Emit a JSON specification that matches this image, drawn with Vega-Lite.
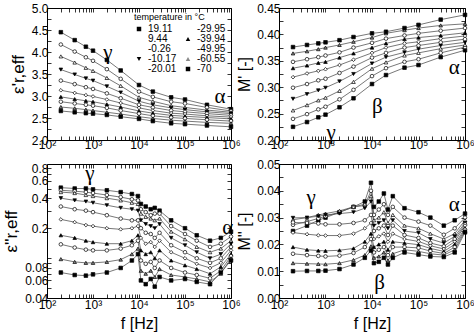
{
"$schema":"https://vega.github.io/schema/vega-lite/v6.json",
"padding":{"left":2,"top":1,"right":2,"bottom":0},
"config":{
"view":{"stroke":"black","strokeWidth":1},
"font":"Liberation Sans",
"axis":{"labelFont":"Liberation Sans","labelFontSize":12,"labelColor":"black","titleFont":"Liberation Sans","titleFontSize":16,"titleFontWeight":"normal","titleColor":"black","tickColor":"black","tickSize":-4,"tickWidth":0.8,"domain":false,"grid":false,"labelFlush":false,"labelOverlap":false,"labelPadding":3},
"text":{"font":"Liberation Serif","fontSize":21,"align":"center","baseline":"middle","color":"black"}
},
"datasets":{
"a":[
{"s":"19.11","f":200,"v":4.45},{"s":"19.11","f":400,"v":4.27},{"s":"19.11","f":700,"v":4.12},{"s":"19.11","f":1000,"v":4.03},{"s":"19.11","f":2000,"v":3.82},{"s":"19.11","f":4000,"v":3.58},{"s":"19.11","f":10000,"v":3.25},{"s":"19.11","f":20000,"v":3.1},{"s":"19.11","f":50000,"v":2.97},{"s":"19.11","f":100000,"v":2.92},{"s":"19.11","f":300000,"v":2.8},{"s":"19.11","f":1000000,"v":2.7},
{"s":"9.44","f":200,"v":4.17},{"s":"9.44","f":400,"v":4.01},{"s":"9.44","f":700,"v":3.88},{"s":"9.44","f":1000,"v":3.8},{"s":"9.44","f":2000,"v":3.61},{"s":"9.44","f":4000,"v":3.39},{"s":"9.44","f":10000,"v":3.1},{"s":"9.44","f":20000,"v":2.98},{"s":"9.44","f":50000,"v":2.87},{"s":"9.44","f":100000,"v":2.83},{"s":"9.44","f":300000,"v":2.74},{"s":"9.44","f":1000000,"v":2.66},
{"s":"-0.26","f":200,"v":3.9},{"s":"-0.26","f":400,"v":3.76},{"s":"-0.26","f":700,"v":3.64},{"s":"-0.26","f":1000,"v":3.57},{"s":"-0.26","f":2000,"v":3.41},{"s":"-0.26","f":4000,"v":3.23},{"s":"-0.26","f":10000,"v":2.97},{"s":"-0.26","f":20000,"v":2.88},{"s":"-0.26","f":50000,"v":2.78},{"s":"-0.26","f":100000,"v":2.74},{"s":"-0.26","f":300000,"v":2.68},{"s":"-0.26","f":1000000,"v":2.63},
{"s":"-10.17","f":200,"v":3.6},{"s":"-10.17","f":400,"v":3.49},{"s":"-10.17","f":700,"v":3.4},{"s":"-10.17","f":1000,"v":3.35},{"s":"-10.17","f":2000,"v":3.22},{"s":"-10.17","f":4000,"v":3.08},{"s":"-10.17","f":10000,"v":2.88},{"s":"-10.17","f":20000,"v":2.8},{"s":"-10.17","f":50000,"v":2.73},{"s":"-10.17","f":100000,"v":2.69},{"s":"-10.17","f":300000,"v":2.64},{"s":"-10.17","f":1000000,"v":2.6},
{"s":"-20.01","f":200,"v":3.35},{"s":"-20.01","f":400,"v":3.27},{"s":"-20.01","f":700,"v":3.2},{"s":"-20.01","f":1000,"v":3.16},{"s":"-20.01","f":2000,"v":3.06},{"s":"-20.01","f":4000,"v":2.95},{"s":"-20.01","f":10000,"v":2.8},{"s":"-20.01","f":20000,"v":2.74},{"s":"-20.01","f":50000,"v":2.67},{"s":"-20.01","f":100000,"v":2.64},{"s":"-20.01","f":300000,"v":2.6},{"s":"-20.01","f":1000000,"v":2.56},
{"s":"-29.95","f":200,"v":3.13},{"s":"-29.95","f":400,"v":3.07},{"s":"-29.95","f":700,"v":3.02},{"s":"-29.95","f":1000,"v":2.99},{"s":"-29.95","f":2000,"v":2.92},{"s":"-29.95","f":4000,"v":2.84},{"s":"-29.95","f":10000,"v":2.73},{"s":"-29.95","f":20000,"v":2.67},{"s":"-29.95","f":50000,"v":2.61},{"s":"-29.95","f":100000,"v":2.59},{"s":"-29.95","f":300000,"v":2.55},{"s":"-29.95","f":1000000,"v":2.52},
{"s":"-39.94","f":200,"v":2.98},{"s":"-39.94","f":400,"v":2.93},{"s":"-39.94","f":700,"v":2.89},{"s":"-39.94","f":1000,"v":2.87},{"s":"-39.94","f":2000,"v":2.81},{"s":"-39.94","f":4000,"v":2.75},{"s":"-39.94","f":10000,"v":2.66},{"s":"-39.94","f":20000,"v":2.61},{"s":"-39.94","f":50000,"v":2.56},{"s":"-39.94","f":100000,"v":2.54},{"s":"-39.94","f":300000,"v":2.51},{"s":"-39.94","f":1000000,"v":2.48},
{"s":"-49.95","f":200,"v":2.87},{"s":"-49.95","f":400,"v":2.83},{"s":"-49.95","f":700,"v":2.8},{"s":"-49.95","f":1000,"v":2.78},{"s":"-49.95","f":2000,"v":2.73},{"s":"-49.95","f":4000,"v":2.67},{"s":"-49.95","f":10000,"v":2.6},{"s":"-49.95","f":20000,"v":2.55},{"s":"-49.95","f":50000,"v":2.51},{"s":"-49.95","f":100000,"v":2.49},{"s":"-49.95","f":300000,"v":2.46},{"s":"-49.95","f":1000000,"v":2.43},
{"s":"-60.55","f":200,"v":2.75},{"s":"-60.55","f":400,"v":2.72},{"s":"-60.55","f":700,"v":2.69},{"s":"-60.55","f":1000,"v":2.67},{"s":"-60.55","f":2000,"v":2.63},{"s":"-60.55","f":4000,"v":2.59},{"s":"-60.55","f":10000,"v":2.53},{"s":"-60.55","f":20000,"v":2.49},{"s":"-60.55","f":50000,"v":2.45},{"s":"-60.55","f":100000,"v":2.43},{"s":"-60.55","f":300000,"v":2.4},{"s":"-60.55","f":1000000,"v":2.38},
{"s":"-70","f":200,"v":2.66},{"s":"-70","f":400,"v":2.63},{"s":"-70","f":700,"v":2.61},{"s":"-70","f":1000,"v":2.6},{"s":"-70","f":2000,"v":2.57},{"s":"-70","f":4000,"v":2.53},{"s":"-70","f":10000,"v":2.48},{"s":"-70","f":20000,"v":2.43},{"s":"-70","f":50000,"v":2.38},{"s":"-70","f":100000,"v":2.36},{"s":"-70","f":300000,"v":2.33},{"s":"-70","f":1000000,"v":2.3}
],
"b":[
{"s":"19.11","f":200,"v":0.225},{"s":"19.11","f":400,"v":0.234},{"s":"19.11","f":700,"v":0.243},{"s":"19.11","f":1000,"v":0.248},{"s":"19.11","f":2000,"v":0.262},{"s":"19.11","f":4000,"v":0.279},{"s":"19.11","f":10000,"v":0.306},{"s":"19.11","f":20000,"v":0.323},{"s":"19.11","f":50000,"v":0.337},{"s":"19.11","f":100000,"v":0.342},{"s":"19.11","f":300000,"v":0.357},{"s":"19.11","f":1000000,"v":0.37},
{"s":"9.44","f":200,"v":0.24},{"s":"9.44","f":400,"v":0.249},{"s":"9.44","f":700,"v":0.258},{"s":"9.44","f":1000,"v":0.263},{"s":"9.44","f":2000,"v":0.277},{"s":"9.44","f":4000,"v":0.295},{"s":"9.44","f":10000,"v":0.321},{"s":"9.44","f":20000,"v":0.336},{"s":"9.44","f":50000,"v":0.348},{"s":"9.44","f":100000,"v":0.353},{"s":"9.44","f":300000,"v":0.365},{"s":"9.44","f":1000000,"v":0.376},
{"s":"-0.26","f":200,"v":0.256},{"s":"-0.26","f":400,"v":0.266},{"s":"-0.26","f":700,"v":0.275},{"s":"-0.26","f":1000,"v":0.28},{"s":"-0.26","f":2000,"v":0.293},{"s":"-0.26","f":4000,"v":0.31},{"s":"-0.26","f":10000,"v":0.335},{"s":"-0.26","f":20000,"v":0.347},{"s":"-0.26","f":50000,"v":0.36},{"s":"-0.26","f":100000,"v":0.365},{"s":"-0.26","f":300000,"v":0.373},{"s":"-0.26","f":1000000,"v":0.38},
{"s":"-10.17","f":200,"v":0.278},{"s":"-10.17","f":400,"v":0.287},{"s":"-10.17","f":700,"v":0.294},{"s":"-10.17","f":1000,"v":0.299},{"s":"-10.17","f":2000,"v":0.311},{"s":"-10.17","f":4000,"v":0.325},{"s":"-10.17","f":10000,"v":0.345},{"s":"-10.17","f":20000,"v":0.357},{"s":"-10.17","f":50000,"v":0.366},{"s":"-10.17","f":100000,"v":0.372},{"s":"-10.17","f":300000,"v":0.379},{"s":"-10.17","f":1000000,"v":0.385},
{"s":"-20.01","f":200,"v":0.299},{"s":"-20.01","f":400,"v":0.306},{"s":"-20.01","f":700,"v":0.313},{"s":"-20.01","f":1000,"v":0.316},{"s":"-20.01","f":2000,"v":0.327},{"s":"-20.01","f":4000,"v":0.339},{"s":"-20.01","f":10000,"v":0.356},{"s":"-20.01","f":20000,"v":0.365},{"s":"-20.01","f":50000,"v":0.375},{"s":"-20.01","f":100000,"v":0.379},{"s":"-20.01","f":300000,"v":0.385},{"s":"-20.01","f":1000000,"v":0.391},
{"s":"-29.95","f":200,"v":0.319},{"s":"-29.95","f":400,"v":0.326},{"s":"-29.95","f":700,"v":0.331},{"s":"-29.95","f":1000,"v":0.334},{"s":"-29.95","f":2000,"v":0.342},{"s":"-29.95","f":4000,"v":0.352},{"s":"-29.95","f":10000,"v":0.365},{"s":"-29.95","f":20000,"v":0.375},{"s":"-29.95","f":50000,"v":0.383},{"s":"-29.95","f":100000,"v":0.386},{"s":"-29.95","f":300000,"v":0.392},{"s":"-29.95","f":1000000,"v":0.397},
{"s":"-39.94","f":200,"v":0.336},{"s":"-39.94","f":400,"v":0.341},{"s":"-39.94","f":700,"v":0.346},{"s":"-39.94","f":1000,"v":0.348},{"s":"-39.94","f":2000,"v":0.356},{"s":"-39.94","f":4000,"v":0.364},{"s":"-39.94","f":10000,"v":0.375},{"s":"-39.94","f":20000,"v":0.383},{"s":"-39.94","f":50000,"v":0.391},{"s":"-39.94","f":100000,"v":0.394},{"s":"-39.94","f":300000,"v":0.398},{"s":"-39.94","f":1000000,"v":0.403},
{"s":"-49.95","f":200,"v":0.348},{"s":"-49.95","f":400,"v":0.353},{"s":"-49.95","f":700,"v":0.357},{"s":"-49.95","f":1000,"v":0.36},{"s":"-49.95","f":2000,"v":0.366},{"s":"-49.95","f":4000,"v":0.375},{"s":"-49.95","f":10000,"v":0.384},{"s":"-49.95","f":20000,"v":0.392},{"s":"-49.95","f":50000,"v":0.398},{"s":"-49.95","f":100000,"v":0.402},{"s":"-49.95","f":300000,"v":0.407},{"s":"-49.95","f":1000000,"v":0.412},
{"s":"-60.55","f":200,"v":0.364},{"s":"-60.55","f":400,"v":0.368},{"s":"-60.55","f":700,"v":0.372},{"s":"-60.55","f":1000,"v":0.375},{"s":"-60.55","f":2000,"v":0.38},{"s":"-60.55","f":4000,"v":0.386},{"s":"-60.55","f":10000,"v":0.394},{"s":"-60.55","f":20000,"v":0.402},{"s":"-60.55","f":50000,"v":0.408},{"s":"-60.55","f":100000,"v":0.412},{"s":"-60.55","f":300000,"v":0.417},{"s":"-60.55","f":1000000,"v":0.42},
{"s":"-70","f":200,"v":0.376},{"s":"-70","f":400,"v":0.38},{"s":"-70","f":700,"v":0.383},{"s":"-70","f":1000,"v":0.385},{"s":"-70","f":2000,"v":0.389},{"s":"-70","f":4000,"v":0.395},{"s":"-70","f":10000,"v":0.402},{"s":"-70","f":20000,"v":0.405},{"s":"-70","f":50000,"v":0.412},{"s":"-70","f":100000,"v":0.418},{"s":"-70","f":300000,"v":0.428},{"s":"-70","f":1000000,"v":0.437}
],
"c":[
{"s":"19.11","f":200,"v":0.51},{"s":"19.11","f":400,"v":0.5},{"s":"19.11","f":700,"v":0.5},{"s":"19.11","f":1000,"v":0.49},{"s":"19.11","f":2000,"v":0.48},{"s":"19.11","f":4000,"v":0.46},{"s":"19.11","f":7000,"v":0.44},{"s":"19.11","f":9500,"v":0.42},{"s":"19.11","f":11000,"v":0.35},{"s":"19.11","f":14000,"v":0.33},{"s":"19.11","f":18000,"v":0.31},{"s":"19.11","f":22000,"v":0.32},{"s":"19.11","f":28000,"v":0.3},{"s":"19.11","f":50000,"v":0.24},{"s":"19.11","f":100000,"v":0.2},{"s":"19.11","f":180000,"v":0.17},{"s":"19.11","f":350000,"v":0.15},{"s":"19.11","f":600000,"v":0.16},{"s":"19.11","f":1000000,"v":0.185},
{"s":"9.44","f":200,"v":0.48},{"s":"9.44","f":400,"v":0.47},{"s":"9.44","f":700,"v":0.46},{"s":"9.44","f":1000,"v":0.45},{"s":"9.44","f":2000,"v":0.43},{"s":"9.44","f":4000,"v":0.41},{"s":"9.44","f":7000,"v":0.39},{"s":"9.44","f":9500,"v":0.38},{"s":"9.44","f":11000,"v":0.31},{"s":"9.44","f":14000,"v":0.29},{"s":"9.44","f":18000,"v":0.27},{"s":"9.44","f":22000,"v":0.28},{"s":"9.44","f":28000,"v":0.28},{"s":"9.44","f":50000,"v":0.21},{"s":"9.44","f":100000,"v":0.175},{"s":"9.44","f":180000,"v":0.15},{"s":"9.44","f":350000,"v":0.13},{"s":"9.44","f":600000,"v":0.14},{"s":"9.44","f":1000000,"v":0.165},
{"s":"-0.26","f":200,"v":0.46},{"s":"-0.26","f":400,"v":0.45},{"s":"-0.26","f":700,"v":0.43},{"s":"-0.26","f":1000,"v":0.42},{"s":"-0.26","f":2000,"v":0.4},{"s":"-0.26","f":4000,"v":0.38},{"s":"-0.26","f":7000,"v":0.36},{"s":"-0.26","f":9500,"v":0.35},{"s":"-0.26","f":11000,"v":0.28},{"s":"-0.26","f":14000,"v":0.26},{"s":"-0.26","f":18000,"v":0.25},{"s":"-0.26","f":22000,"v":0.24},{"s":"-0.26","f":28000,"v":0.25},{"s":"-0.26","f":50000,"v":0.185},{"s":"-0.26","f":100000,"v":0.155},{"s":"-0.26","f":180000,"v":0.13},{"s":"-0.26","f":350000,"v":0.115},{"s":"-0.26","f":600000,"v":0.125},{"s":"-0.26","f":1000000,"v":0.15},
{"s":"-10.17","f":200,"v":0.4},{"s":"-10.17","f":400,"v":0.38},{"s":"-10.17","f":700,"v":0.37},{"s":"-10.17","f":1000,"v":0.36},{"s":"-10.17","f":2000,"v":0.34},{"s":"-10.17","f":4000,"v":0.32},{"s":"-10.17","f":7000,"v":0.31},{"s":"-10.17","f":9500,"v":0.3},{"s":"-10.17","f":11000,"v":0.24},{"s":"-10.17","f":14000,"v":0.22},{"s":"-10.17","f":18000,"v":0.21},{"s":"-10.17","f":22000,"v":0.2},{"s":"-10.17","f":28000,"v":0.22},{"s":"-10.17","f":50000,"v":0.16},{"s":"-10.17","f":100000,"v":0.135},{"s":"-10.17","f":180000,"v":0.115},{"s":"-10.17","f":350000,"v":0.1},{"s":"-10.17","f":600000,"v":0.11},{"s":"-10.17","f":1000000,"v":0.14},
{"s":"-20.01","f":200,"v":0.33},{"s":"-20.01","f":400,"v":0.31},{"s":"-20.01","f":700,"v":0.3},{"s":"-20.01","f":1000,"v":0.29},{"s":"-20.01","f":2000,"v":0.27},{"s":"-20.01","f":4000,"v":0.25},{"s":"-20.01","f":7000,"v":0.24},{"s":"-20.01","f":9500,"v":0.24},{"s":"-20.01","f":11000,"v":0.2},{"s":"-20.01","f":14000,"v":0.18},{"s":"-20.01","f":18000,"v":0.175},{"s":"-20.01","f":22000,"v":0.16},{"s":"-20.01","f":28000,"v":0.18},{"s":"-20.01","f":50000,"v":0.135},{"s":"-20.01","f":100000,"v":0.115},{"s":"-20.01","f":180000,"v":0.1},{"s":"-20.01","f":350000,"v":0.09},{"s":"-20.01","f":600000,"v":0.1},{"s":"-20.01","f":1000000,"v":0.13},
{"s":"-29.95","f":200,"v":0.245},{"s":"-29.95","f":400,"v":0.23},{"s":"-29.95","f":700,"v":0.215},{"s":"-29.95","f":1000,"v":0.21},{"s":"-29.95","f":2000,"v":0.2},{"s":"-29.95","f":4000,"v":0.195},{"s":"-29.95","f":7000,"v":0.2},{"s":"-29.95","f":9500,"v":0.21},{"s":"-29.95","f":11000,"v":0.16},{"s":"-29.95","f":14000,"v":0.14},{"s":"-29.95","f":18000,"v":0.145},{"s":"-29.95","f":22000,"v":0.13},{"s":"-29.95","f":28000,"v":0.15},{"s":"-29.95","f":50000,"v":0.115},{"s":"-29.95","f":100000,"v":0.1},{"s":"-29.95","f":180000,"v":0.088},{"s":"-29.95","f":350000,"v":0.08},{"s":"-29.95","f":600000,"v":0.09},{"s":"-29.95","f":1000000,"v":0.12},
{"s":"-39.94","f":200,"v":0.17},{"s":"-39.94","f":400,"v":0.16},{"s":"-39.94","f":700,"v":0.15},{"s":"-39.94","f":1000,"v":0.145},{"s":"-39.94","f":2000,"v":0.14},{"s":"-39.94","f":4000,"v":0.14},{"s":"-39.94","f":7000,"v":0.15},{"s":"-39.94","f":9500,"v":0.17},{"s":"-39.94","f":11000,"v":0.12},{"s":"-39.94","f":14000,"v":0.11},{"s":"-39.94","f":18000,"v":0.115},{"s":"-39.94","f":22000,"v":0.1},{"s":"-39.94","f":28000,"v":0.12},{"s":"-39.94","f":50000,"v":0.095},{"s":"-39.94","f":100000,"v":0.085},{"s":"-39.94","f":180000,"v":0.078},{"s":"-39.94","f":350000,"v":0.07},{"s":"-39.94","f":600000,"v":0.082},{"s":"-39.94","f":1000000,"v":0.11},
{"s":"-49.95","f":200,"v":0.138},{"s":"-49.95","f":400,"v":0.128},{"s":"-49.95","f":700,"v":0.122},{"s":"-49.95","f":1000,"v":0.12},{"s":"-49.95","f":2000,"v":0.12},{"s":"-49.95","f":4000,"v":0.125},{"s":"-49.95","f":7000,"v":0.135},{"s":"-49.95","f":9500,"v":0.15},{"s":"-49.95","f":11000,"v":0.095},{"s":"-49.95","f":14000,"v":0.088},{"s":"-49.95","f":18000,"v":0.092},{"s":"-49.95","f":22000,"v":0.08},{"s":"-49.95","f":28000,"v":0.095},{"s":"-49.95","f":50000,"v":0.08},{"s":"-49.95","f":100000,"v":0.072},{"s":"-49.95","f":180000,"v":0.068},{"s":"-49.95","f":350000,"v":0.063},{"s":"-49.95","f":600000,"v":0.075},{"s":"-49.95","f":1000000,"v":0.105},
{"s":"-60.55","f":200,"v":0.098},{"s":"-60.55","f":400,"v":0.092},{"s":"-60.55","f":700,"v":0.09},{"s":"-60.55","f":1000,"v":0.09},{"s":"-60.55","f":2000,"v":0.092},{"s":"-60.55","f":4000,"v":0.097},{"s":"-60.55","f":7000,"v":0.11},{"s":"-60.55","f":9500,"v":0.125},{"s":"-60.55","f":11000,"v":0.075},{"s":"-60.55","f":14000,"v":0.07},{"s":"-60.55","f":18000,"v":0.075},{"s":"-60.55","f":22000,"v":0.065},{"s":"-60.55","f":28000,"v":0.078},{"s":"-60.55","f":50000,"v":0.068},{"s":"-60.55","f":100000,"v":0.065},{"s":"-60.55","f":180000,"v":0.062},{"s":"-60.55","f":350000,"v":0.058},{"s":"-60.55","f":600000,"v":0.07},{"s":"-60.55","f":1000000,"v":0.1},
{"s":"-70","f":200,"v":0.072},{"s":"-70","f":400,"v":0.068},{"s":"-70","f":700,"v":0.067},{"s":"-70","f":1000,"v":0.069},{"s":"-70","f":2000,"v":0.072},{"s":"-70","f":4000,"v":0.08},{"s":"-70","f":7000,"v":0.095},{"s":"-70","f":9500,"v":0.11},{"s":"-70","f":11000,"v":0.06},{"s":"-70","f":14000,"v":0.055},{"s":"-70","f":18000,"v":0.062},{"s":"-70","f":22000,"v":0.052},{"s":"-70","f":28000,"v":0.065},{"s":"-70","f":50000,"v":0.06},{"s":"-70","f":100000,"v":0.062},{"s":"-70","f":180000,"v":0.058},{"s":"-70","f":350000,"v":0.055},{"s":"-70","f":600000,"v":0.072},{"s":"-70","f":1000000,"v":0.095}
],
"d":[
{"s":"19.11","f":200,"v":0.025},{"s":"19.11","f":400,"v":0.027},{"s":"19.11","f":700,"v":0.029},{"s":"19.11","f":1000,"v":0.03},{"s":"19.11","f":2000,"v":0.032},{"s":"19.11","f":4000,"v":0.034},{"s":"19.11","f":7000,"v":0.036},{"s":"19.11","f":9500,"v":0.043},{"s":"19.11","f":11000,"v":0.034},{"s":"19.11","f":14000,"v":0.036},{"s":"19.11","f":18000,"v":0.039},{"s":"19.11","f":22000,"v":0.033},{"s":"19.11","f":28000,"v":0.038},{"s":"19.11","f":50000,"v":0.0335},{"s":"19.11","f":100000,"v":0.032},{"s":"19.11","f":180000,"v":0.03},{"s":"19.11","f":350000,"v":0.027},{"s":"19.11","f":600000,"v":0.029},{"s":"19.11","f":1000000,"v":0.0315},
{"s":"9.44","f":200,"v":0.0273},{"s":"9.44","f":400,"v":0.0285},{"s":"9.44","f":700,"v":0.0297},{"s":"9.44","f":1000,"v":0.0305},{"s":"9.44","f":2000,"v":0.032},{"s":"9.44","f":4000,"v":0.034},{"s":"9.44","f":7000,"v":0.0345},{"s":"9.44","f":9500,"v":0.04},{"s":"9.44","f":11000,"v":0.031},{"s":"9.44","f":14000,"v":0.033},{"s":"9.44","f":18000,"v":0.035},{"s":"9.44","f":22000,"v":0.031},{"s":"9.44","f":28000,"v":0.034},{"s":"9.44","f":50000,"v":0.03},{"s":"9.44","f":100000,"v":0.0285},{"s":"9.44","f":180000,"v":0.027},{"s":"9.44","f":350000,"v":0.0236},{"s":"9.44","f":600000,"v":0.026},{"s":"9.44","f":1000000,"v":0.03},
{"s":"-0.26","f":200,"v":0.0292},{"s":"-0.26","f":400,"v":0.03},{"s":"-0.26","f":700,"v":0.031},{"s":"-0.26","f":1000,"v":0.0315},{"s":"-0.26","f":2000,"v":0.0325},{"s":"-0.26","f":4000,"v":0.034},{"s":"-0.26","f":7000,"v":0.035},{"s":"-0.26","f":9500,"v":0.038},{"s":"-0.26","f":11000,"v":0.029},{"s":"-0.26","f":14000,"v":0.03},{"s":"-0.26","f":18000,"v":0.032},{"s":"-0.26","f":22000,"v":0.028},{"s":"-0.26","f":28000,"v":0.031},{"s":"-0.26","f":50000,"v":0.027},{"s":"-0.26","f":100000,"v":0.026},{"s":"-0.26","f":180000,"v":0.024},{"s":"-0.26","f":350000,"v":0.022},{"s":"-0.26","f":600000,"v":0.024},{"s":"-0.26","f":1000000,"v":0.029},
{"s":"-10.17","f":200,"v":0.0299},{"s":"-10.17","f":400,"v":0.03},{"s":"-10.17","f":700,"v":0.0305},{"s":"-10.17","f":1000,"v":0.031},{"s":"-10.17","f":2000,"v":0.0315},{"s":"-10.17","f":4000,"v":0.032},{"s":"-10.17","f":7000,"v":0.0335},{"s":"-10.17","f":9500,"v":0.036},{"s":"-10.17","f":11000,"v":0.027},{"s":"-10.17","f":14000,"v":0.028},{"s":"-10.17","f":18000,"v":0.029},{"s":"-10.17","f":22000,"v":0.026},{"s":"-10.17","f":28000,"v":0.029},{"s":"-10.17","f":50000,"v":0.025},{"s":"-10.17","f":100000,"v":0.0243},{"s":"-10.17","f":180000,"v":0.022},{"s":"-10.17","f":350000,"v":0.0205},{"s":"-10.17","f":600000,"v":0.023},{"s":"-10.17","f":1000000,"v":0.028},
{"s":"-20.01","f":200,"v":0.0282},{"s":"-20.01","f":400,"v":0.028},{"s":"-20.01","f":700,"v":0.0278},{"s":"-20.01","f":1000,"v":0.0275},{"s":"-20.01","f":2000,"v":0.0275},{"s":"-20.01","f":4000,"v":0.028},{"s":"-20.01","f":7000,"v":0.029},{"s":"-20.01","f":9500,"v":0.031},{"s":"-20.01","f":11000,"v":0.025},{"s":"-20.01","f":14000,"v":0.026},{"s":"-20.01","f":18000,"v":0.027},{"s":"-20.01","f":22000,"v":0.0235},{"s":"-20.01","f":28000,"v":0.027},{"s":"-20.01","f":50000,"v":0.0235},{"s":"-20.01","f":100000,"v":0.0224},{"s":"-20.01","f":180000,"v":0.0205},{"s":"-20.01","f":350000,"v":0.0193},{"s":"-20.01","f":600000,"v":0.022},{"s":"-20.01","f":1000000,"v":0.0275},
{"s":"-29.95","f":200,"v":0.0244},{"s":"-29.95","f":400,"v":0.0238},{"s":"-29.95","f":700,"v":0.0234},{"s":"-29.95","f":1000,"v":0.0233},{"s":"-29.95","f":2000,"v":0.0233},{"s":"-29.95","f":4000,"v":0.024},{"s":"-29.95","f":7000,"v":0.026},{"s":"-29.95","f":9500,"v":0.028},{"s":"-29.95","f":11000,"v":0.022},{"s":"-29.95","f":14000,"v":0.023},{"s":"-29.95","f":18000,"v":0.024},{"s":"-29.95","f":22000,"v":0.021},{"s":"-29.95","f":28000,"v":0.024},{"s":"-29.95","f":50000,"v":0.022},{"s":"-29.95","f":100000,"v":0.0211},{"s":"-29.95","f":180000,"v":0.0195},{"s":"-29.95","f":350000,"v":0.0183},{"s":"-29.95","f":600000,"v":0.021},{"s":"-29.95","f":1000000,"v":0.027},
{"s":"-39.94","f":200,"v":0.019},{"s":"-39.94","f":400,"v":0.018},{"s":"-39.94","f":700,"v":0.0177},{"s":"-39.94","f":1000,"v":0.0176},{"s":"-39.94","f":2000,"v":0.0178},{"s":"-39.94","f":4000,"v":0.0185},{"s":"-39.94","f":7000,"v":0.021},{"s":"-39.94","f":9500,"v":0.024},{"s":"-39.94","f":11000,"v":0.019},{"s":"-39.94","f":14000,"v":0.02},{"s":"-39.94","f":18000,"v":0.021},{"s":"-39.94","f":22000,"v":0.018},{"s":"-39.94","f":28000,"v":0.021},{"s":"-39.94","f":50000,"v":0.0205},{"s":"-39.94","f":100000,"v":0.0199},{"s":"-39.94","f":180000,"v":0.0185},{"s":"-39.94","f":350000,"v":0.0174},{"s":"-39.94","f":600000,"v":0.02},{"s":"-39.94","f":1000000,"v":0.026},
{"s":"-49.95","f":200,"v":0.0165},{"s":"-49.95","f":400,"v":0.016},{"s":"-49.95","f":700,"v":0.0157},{"s":"-49.95","f":1000,"v":0.0155},{"s":"-49.95","f":2000,"v":0.0158},{"s":"-49.95","f":4000,"v":0.0168},{"s":"-49.95","f":7000,"v":0.019},{"s":"-49.95","f":9500,"v":0.022},{"s":"-49.95","f":11000,"v":0.017},{"s":"-49.95","f":14000,"v":0.018},{"s":"-49.95","f":18000,"v":0.019},{"s":"-49.95","f":22000,"v":0.016},{"s":"-49.95","f":28000,"v":0.019},{"s":"-49.95","f":50000,"v":0.019},{"s":"-49.95","f":100000,"v":0.0187},{"s":"-49.95","f":180000,"v":0.0175},{"s":"-49.95","f":350000,"v":0.0166},{"s":"-49.95","f":600000,"v":0.019},{"s":"-49.95","f":1000000,"v":0.0255},
{"s":"-60.55","f":200,"v":0.013},{"s":"-60.55","f":400,"v":0.0128},{"s":"-60.55","f":700,"v":0.0127},{"s":"-60.55","f":1000,"v":0.0126},{"s":"-60.55","f":2000,"v":0.013},{"s":"-60.55","f":4000,"v":0.0142},{"s":"-60.55","f":7000,"v":0.016},{"s":"-60.55","f":9500,"v":0.0193},{"s":"-60.55","f":11000,"v":0.015},{"s":"-60.55","f":14000,"v":0.0155},{"s":"-60.55","f":18000,"v":0.017},{"s":"-60.55","f":22000,"v":0.014},{"s":"-60.55","f":28000,"v":0.0165},{"s":"-60.55","f":50000,"v":0.018},{"s":"-60.55","f":100000,"v":0.0174},{"s":"-60.55","f":180000,"v":0.0165},{"s":"-60.55","f":350000,"v":0.016},{"s":"-60.55","f":600000,"v":0.018},{"s":"-60.55","f":1000000,"v":0.025},
{"s":"-70","f":200,"v":0.01},{"s":"-70","f":400,"v":0.0101},{"s":"-70","f":700,"v":0.0101},{"s":"-70","f":1000,"v":0.0102},{"s":"-70","f":2000,"v":0.0108},{"s":"-70","f":4000,"v":0.0125},{"s":"-70","f":7000,"v":0.015},{"s":"-70","f":9500,"v":0.0177},{"s":"-70","f":11000,"v":0.013},{"s":"-70","f":14000,"v":0.0135},{"s":"-70","f":18000,"v":0.015},{"s":"-70","f":22000,"v":0.0125},{"s":"-70","f":28000,"v":0.015},{"s":"-70","f":50000,"v":0.017},{"s":"-70","f":100000,"v":0.0162},{"s":"-70","f":180000,"v":0.0155},{"s":"-70","f":350000,"v":0.0153},{"s":"-70","f":600000,"v":0.017},{"s":"-70","f":1000000,"v":0.0245}
]
},
"spacing":6,
"resolve":{"scale":{"shape":"independent","fill":"independent"},"legend":{"shape":"independent","fill":"independent"}},
"vconcat":[
{"bounds":"flush","spacing":48,
"resolve":{"scale":{"shape":"independent","fill":"independent"},"legend":{"shape":"independent","fill":"independent"}},
"hconcat":[
{"width":184,"height":132,
"resolve":{"axis":{"x":"independent","y":"independent"}},
"layer":[
{"data":{"name":"a"},"mark":{"type":"line","color":"#555","strokeWidth":0.8},
"encoding":{"x":{"field":"f","type":"quantitative","scale":{"type":"log","domain":[100,1000000],"nice":false},"axis":{"orient":"bottom","title":null,"tickCount":20,"labelExpr":"datum.value==100?'10²':datum.value==1000?'10³':datum.value==10000?'10⁴':datum.value==100000?'10⁵':datum.value==1000000?'10⁶':''"}},
"y":{"field":"v","type":"quantitative","scale":{"domain":[2,5],"nice":false},"axis":{"orient":"left","title":"ε'r,eff","titleFontSize":17,"values":[2,2.25,2.5,2.75,3,3.25,3.5,3.75,4,4.25,4.5,4.75,5],"labelExpr":"(datum.value*2)%1==0?format(datum.value,'.1f'):''"}},
"detail":{"field":"s"}}},
{"data":{"name":"a"},"mark":{"type":"point","stroke":"black","strokeWidth":0.7,"size":13,"opacity":1},
"encoding":{"x":{"field":"f","type":"quantitative","axis":{"orient":"top","title":null,"labels":false,"tickCount":20}},
"y":{"field":"v","type":"quantitative","axis":{"orient":"right","title":null,"labels":false,"values":[2,2.25,2.5,2.75,3,3.25,3.5,3.75,4,4.25,4.5,4.75,5]}},
"shape":{"field":"s","type":"nominal","scale":{"domain":["19.11","9.44","-0.26","-10.17","-20.01","-29.95","-39.94","-49.95","-60.55","-70"],"range":["square","circle","triangle-up","triangle-down","circle","diamond","triangle-up","circle","triangle-up","square"]},"legend":{"title":"temperature in °C","orient":"top-right","offset":4,"columns":2,"titleFontSize":9,"titleFontWeight":"normal","titleFont":"Liberation Sans","titlePadding":2,"labelFontSize":10,"labelFont":"Liberation Sans","symbolSize":20,"symbolStrokeColor":"black","symbolStrokeWidth":0.7,"rowPadding":0,"columnPadding":6,"padding":1}},
"fill":{"field":"s","type":"nominal","scale":{"domain":["19.11","9.44","-0.26","-10.17","-20.01","-29.95","-39.94","-49.95","-60.55","-70"],"range":["black","white","white","black","white","white","black","white","#888","black"]},"legend":{"title":"temperature in °C","orient":"top-right","offset":4,"columns":2,"titleFontSize":9,"titleFontWeight":"normal","titleFont":"Liberation Sans","titlePadding":2,"labelFontSize":10,"labelFont":"Liberation Sans","symbolSize":20,"symbolStrokeColor":"black","symbolStrokeWidth":0.7,"rowPadding":0,"columnPadding":6,"padding":1}}}},
{"data":{"values":[{"f":2100,"v":3.98,"t":"γ"},{"f":580000,"v":2.98,"t":"α"}]},"mark":{"type":"text"},
"encoding":{"x":{"field":"f","type":"quantitative","axis":null},"y":{"field":"v","type":"quantitative","axis":null},"text":{"field":"t"}}}
]},
{"width":186,"height":132,
"resolve":{"axis":{"x":"independent","y":"independent"}},
"layer":[
{"data":{"name":"b"},"mark":{"type":"line","color":"#555","strokeWidth":0.8},
"encoding":{"x":{"field":"f","type":"quantitative","scale":{"type":"log","domain":[100,1000000],"nice":false},"axis":{"orient":"bottom","title":null,"tickCount":20,"labelExpr":"datum.value==100?'10²':datum.value==1000?'10³':datum.value==10000?'10⁴':datum.value==100000?'10⁵':datum.value==1000000?'10⁶':''"}},
"y":{"field":"v","type":"quantitative","scale":{"domain":[0.2,0.45],"nice":false},"axis":{"orient":"left","title":"M' [-]","values":[0.2,0.225,0.25,0.275,0.3,0.325,0.35,0.375,0.4,0.425,0.45],"labelExpr":"round(datum.value*200)%10==0?format(datum.value,'.2f'):''"}},
"detail":{"field":"s"}}},
{"data":{"name":"b"},"mark":{"type":"point","stroke":"black","strokeWidth":0.7,"size":13,"opacity":1},
"encoding":{"x":{"field":"f","type":"quantitative","axis":{"orient":"top","title":null,"labels":false,"tickCount":20}},
"y":{"field":"v","type":"quantitative","axis":{"orient":"right","title":null,"labels":false,"values":[0.2,0.225,0.25,0.275,0.3,0.325,0.35,0.375,0.4,0.425,0.45]}},
"shape":{"field":"s","type":"nominal","scale":{"domain":["19.11","9.44","-0.26","-10.17","-20.01","-29.95","-39.94","-49.95","-60.55","-70"],"range":["square","circle","triangle-up","triangle-down","circle","diamond","triangle-up","circle","triangle-up","square"]},"legend":null},
"fill":{"field":"s","type":"nominal","scale":{"domain":["19.11","9.44","-0.26","-10.17","-20.01","-29.95","-39.94","-49.95","-60.55","-70"],"range":["black","white","white","black","white","white","black","white","#888","black"]},"legend":null}}},
{"data":{"values":[{"f":1320,"v":0.213,"t":"γ"},{"f":13000,"v":0.262,"t":"β"},{"f":590000,"v":0.336,"t":"α"}]},"mark":{"type":"text"},
"encoding":{"x":{"field":"f","type":"quantitative","axis":null},"y":{"field":"v","type":"quantitative","axis":null},"text":{"field":"t"}}}
]}
]},
{"bounds":"flush","spacing":48,
"resolve":{"scale":{"shape":"independent","fill":"independent"},"legend":{"shape":"independent","fill":"independent"}},
"hconcat":[
{"width":184,"height":134,
"resolve":{"axis":{"x":"independent","y":"independent"}},
"layer":[
{"data":{"name":"c"},"mark":{"type":"line","color":"#555","strokeWidth":0.8},
"encoding":{"x":{"field":"f","type":"quantitative","scale":{"type":"log","domain":[100,1000000],"nice":false},"axis":{"orient":"bottom","title":"f [Hz]","titlePadding":5,"labelPadding":5,"tickCount":20,"labelExpr":"datum.value==100?'10²':datum.value==1000?'10³':datum.value==10000?'10⁴':datum.value==100000?'10⁵':datum.value==1000000?'10⁶':''"}},
"y":{"field":"v","type":"quantitative","scale":{"type":"log","domain":[0.04,0.88],"nice":false},"axis":{"orient":"left","title":"ε''r,eff","titleFontSize":17,"values":[0.04,0.05,0.06,0.07,0.08,0.09,0.1,0.2,0.3,0.4,0.5,0.6,0.7,0.8],"labelExpr":"(datum.value==0.04||datum.value==0.06||datum.value==0.08||datum.value==0.2||datum.value==0.4||datum.value==0.6||datum.value==0.8)?''+datum.value:''"}},
"detail":{"field":"s"}}},
{"data":{"name":"c"},"mark":{"type":"point","stroke":"black","strokeWidth":0.7,"size":13,"opacity":1},
"encoding":{"x":{"field":"f","type":"quantitative","axis":{"orient":"top","title":null,"labels":false,"tickCount":20}},
"y":{"field":"v","type":"quantitative","axis":{"orient":"right","title":null,"labels":false,"values":[0.04,0.05,0.06,0.07,0.08,0.09,0.1,0.2,0.3,0.4,0.5,0.6,0.7,0.8]}},
"shape":{"field":"s","type":"nominal","scale":{"domain":["19.11","9.44","-0.26","-10.17","-20.01","-29.95","-39.94","-49.95","-60.55","-70"],"range":["square","circle","triangle-up","triangle-down","circle","diamond","triangle-up","circle","triangle-up","square"]},"legend":null},
"fill":{"field":"s","type":"nominal","scale":{"domain":["19.11","9.44","-0.26","-10.17","-20.01","-29.95","-39.94","-49.95","-60.55","-70"],"range":["black","white","white","black","white","white","black","white","#888","black"]},"legend":null}}},
{"data":{"values":[{"f":860,"v":0.7,"t":"γ"},{"f":850000,"v":0.2,"t":"α"}]},"mark":{"type":"text"},
"encoding":{"x":{"field":"f","type":"quantitative","axis":null},"y":{"field":"v","type":"quantitative","axis":null},"text":{"field":"t"}}}
]},
{"width":186,"height":134,
"resolve":{"axis":{"x":"independent","y":"independent"}},
"layer":[
{"data":{"name":"d"},"mark":{"type":"line","color":"#555","strokeWidth":0.8},
"encoding":{"x":{"field":"f","type":"quantitative","scale":{"type":"log","domain":[100,1000000],"nice":false},"axis":{"orient":"bottom","title":"f [Hz]","titlePadding":5,"labelPadding":5,"tickCount":20,"labelExpr":"datum.value==100?'10²':datum.value==1000?'10³':datum.value==10000?'10⁴':datum.value==100000?'10⁵':datum.value==1000000?'10⁶':''"}},
"y":{"field":"v","type":"quantitative","scale":{"domain":[0,0.05],"nice":false},"axis":{"orient":"left","title":"M'' [-]","values":[0,0.005,0.01,0.015,0.02,0.025,0.03,0.035,0.04,0.045,0.05],"labelExpr":"round(datum.value*1000)%10==0?format(datum.value,'.2f'):''"}},
"detail":{"field":"s"}}},
{"data":{"name":"d"},"mark":{"type":"point","stroke":"black","strokeWidth":0.7,"size":13,"opacity":1},
"encoding":{"x":{"field":"f","type":"quantitative","axis":{"orient":"top","title":null,"labels":false,"tickCount":20}},
"y":{"field":"v","type":"quantitative","axis":{"orient":"right","title":null,"labels":false,"values":[0,0.005,0.01,0.015,0.02,0.025,0.03,0.035,0.04,0.045,0.05]}},
"shape":{"field":"s","type":"nominal","scale":{"domain":["19.11","9.44","-0.26","-10.17","-20.01","-29.95","-39.94","-49.95","-60.55","-70"],"range":["square","circle","triangle-up","triangle-down","circle","diamond","triangle-up","circle","triangle-up","square"]},"legend":null},
"fill":{"field":"s","type":"nominal","scale":{"domain":["19.11","9.44","-0.26","-10.17","-20.01","-29.95","-39.94","-49.95","-60.55","-70"],"range":["black","white","white","black","white","white","black","white","#888","black"]},"legend":null}}},
{"data":{"values":[{"f":490,"v":0.0373,"t":"γ"},{"f":14500,"v":0.0056,"t":"β"},{"f":590000,"v":0.0347,"t":"α"}]},"mark":{"type":"text"},
"encoding":{"x":{"field":"f","type":"quantitative","axis":null},"y":{"field":"v","type":"quantitative","axis":null},"text":{"field":"t"}}}
]}
]}
]
}
